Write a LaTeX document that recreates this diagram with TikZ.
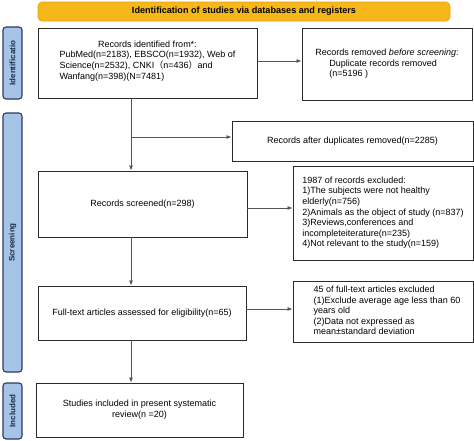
\documentclass[tikz,border=0pt]{standalone}
\usepackage{fontspec}
\setmainfont{Liberation Sans}
\newfontfamily\cjk{Noto Sans CJK SC}
\usetikzlibrary{arrows.meta}
\definecolor{orangefill}{HTML}{F6B71A}
\definecolor{orangeline}{HTML}{E3A20C}
\definecolor{sidefill}{HTML}{A6C4E7}
\definecolor{sideline}{HTML}{2C3B57}
\definecolor{sidetext}{HTML}{1E2A44}
\definecolor{boxline}{HTML}{2A2A2A}
\definecolor{arrline}{HTML}{555555}
\tikzset{
  txt/.style={font=\fontsize{9}{10.6}\selectfont},
  box/.style={txt, draw=boxline, line width=0.9pt, inner sep=0pt, fill=white},
  side/.style={draw=sideline, line width=1.1pt, fill=sidefill, rounded corners=3pt,
    inner sep=0pt},
  sidelab/.style={rotate=90, text=sidetext, font=\fontsize{8}{9}\selectfont\bfseries},
  banner/.style={draw=orangeline, line width=0.6pt, fill=orangefill, rounded corners=4pt,
    inner sep=0pt, font=\fontsize{9.1}{10}\selectfont\bfseries},
  arr/.style={draw=arrline, line width=0.8pt, -{Latex[length=5pt,width=4pt]}},
}
\begin{document}
\begin{tikzpicture}[x=1pt,y=-1pt]
\useasboundingbox (0,0) rectangle (474,440);
% banner and side labels
\node[banner, minimum width=412pt, minimum height=19pt] (title) at (244,11.5)
  {Identification of studies via databases and registers};
\node[side, minimum width=19pt, minimum height=72pt] (s1) at (12.5,63) {};
\node[sidelab] (s1t) at (s1.center) {Identificatio};
\node[side, minimum width=19pt, minimum height=259pt] (s2) at (12.5,242.5) {};
\node[sidelab] (s2t) at (s2.center) {Screening};
\node[side, minimum width=19pt, minimum height=56pt] (s3) at (12.5,411) {};
\node[sidelab] (s3t) at (s3.center) {Included};
% boxes
\node[box, minimum width=219pt, minimum height=70pt] (A) at (147.5,63)
  {\begin{tabular}{@{}l@{}}\multicolumn{1}{@{}c@{}}{Records identified from*:}\\
   PubMed(n=2183), EBSCO(n=1932), Web of\\
   Science(n=2532), CNKI{\cjk （}n=436{\cjk ）}and\\
   Wanfang(n=398)(N=7481)\\[4pt]\end{tabular}};
\node[box, minimum width=170pt, minimum height=72pt] (B) at (387,64)
  {\begin{tabular}{@{}l@{}}Records removed \textit{before screening}:\\
   \hspace{14pt}Duplicate records removed\\
   \hspace{14pt}(n=5196 )\end{tabular}\hspace{5pt}};
\node[box, minimum width=241pt, minimum height=40pt] (D) at (352.5,141)
  {Records after duplicates removed(n=2285)};
\node[box, minimum width=209pt, minimum height=66pt] (C) at (142.5,204)
  {Records screened(n=298)};
\node[box, minimum width=180pt, minimum height=94pt] (E) at (383,213)
  {\begin{tabular}{@{}l@{}}1987 of records excluded:\\
   1)The subjects were not healthy\\
   elderly(n=756)\\
   2)Animals as the object of study (n=837)\\
   3)Reviews,conferences and\\
   incompleteiterature(n=235)\\
   4)Not relevant to the study(n=159)\end{tabular}};
\node[box, minimum width=208pt, minimum height=54pt] (F) at (142,313)
  {Full-text articles assessed for eligibility(n=65)};
\node[box, minimum width=180pt, minimum height=61pt] (G) at (383,311.5)
  {\hspace{8pt}\begin{tabular}{@{}l@{}}45 of full-text articles excluded\\
   (1)Exclude average age less than 60\\
   years old\\
   (2)Data not expressed as\\
   mean±standard deviation\end{tabular}};
\node[box, minimum width=207pt, minimum height=54pt] (H) at (139.5,410)
  {\begin{tabular}{@{}c@{}}Studies included in present systematic\\
   review(n =20)\end{tabular}};
% connectors
\coordinate (trunk) at (131,0);
\coordinate (j) at (131,137);
\coordinate (ac) at (0,61);
\coordinate (ce) at (0,208);
\coordinate (fg) at (0,309);
\draw[arr] (A.east |- ac) -- (B.west |- ac);
\draw[arr] (A.south -| trunk) -- (C.north -| trunk);
\draw[arr] (j) -- (j -| D.west);
\draw[arr] (C.east |- ce) -- (E.west |- ce);
\draw[arr] (C.south -| trunk) -- (F.north -| trunk);
\draw[arr] (F.east |- fg) -- (G.west |- fg);
\draw[arr] (F.south -| trunk) -- (H.north -| trunk);
\end{tikzpicture}
\end{document}
